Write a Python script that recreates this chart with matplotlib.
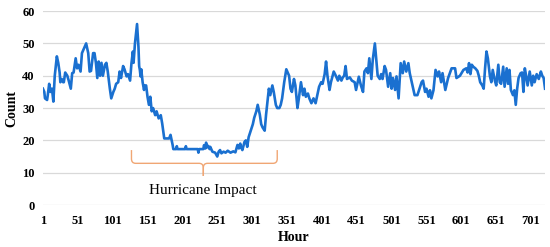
import matplotlib
matplotlib.use("Agg")
import matplotlib.pyplot as plt
from matplotlib.path import Path
from matplotlib.patches import PathPatch

hours = [1, 3, 4, 7, 8, 10, 12, 14, 16, 18, 21, 23, 25, 26, 28, 30, 31, 33, 36, 38,
         41, 43, 45, 48, 50, 52, 55, 57, 61, 63, 66, 68, 70, 73, 75, 77, 79, 81, 83, 85,
         87, 90, 92, 94, 97, 99, 102, 104, 106, 109, 111, 113, 116, 118, 121, 123, 126, 128, 130, 131,
         133, 136, 138, 139, 140, 141, 142, 144, 146, 147, 149, 151, 153, 155, 157, 159, 162, 164, 167, 170,
         172, 175, 178, 182, 184, 187, 188, 192, 193, 194, 205, 206, 207, 223, 224, 225, 231, 232, 234, 235,
         236, 238, 240, 241, 243, 244, 248, 251, 253, 255, 257, 260, 263, 266, 270, 274, 277, 280, 282, 284,
         285, 287, 290, 292, 294, 296, 299, 302, 304, 307, 309, 312, 314, 316, 319, 321, 325, 327, 330, 332,
         335, 337, 340, 342, 344, 347, 350, 352, 354, 356, 358, 361, 363, 366, 368, 371, 374, 376, 378, 381,
         383, 386, 389, 392, 394, 397, 400, 402, 405, 407, 409, 412, 414, 418, 421, 424, 426, 429, 431, 433,
         435, 437, 441, 444, 448, 450, 454, 457, 460, 462, 465, 467, 469, 472, 474, 477, 479, 481, 484, 486,
         488, 491, 493, 496, 499, 501, 503, 506, 508, 511, 514, 517, 519, 522, 525, 527, 531, 534, 538, 541,
         544, 546, 549, 551, 554, 556, 558, 561, 564, 567, 569, 572, 574, 578, 580, 582, 587, 592, 594, 599,
         604, 608, 610, 612, 614, 616, 618, 621, 624, 626, 628, 631, 633, 635, 637, 639, 642, 644, 646, 649,
         651, 654, 656, 658, 661, 663, 666, 668, 670, 672, 675, 677, 679, 681, 683, 686, 688, 690, 692, 694,
         696, 699, 702, 704, 706, 709, 712, 715, 717, 719, 721]

counts = [36, 35, 33, 32.5, 34, 37.5, 35, 36, 32, 40, 46, 44, 41, 38, 39, 38, 38, 41, 40, 38.5,
          36, 40.8, 41, 45.4, 42.3, 43.4, 41.3, 47, 49, 50, 47, 41.3, 41.5, 47, 47, 44, 39.3, 44.4, 40, 44,
          40, 43.4, 44, 41.3, 36, 33, 35, 36, 37.5, 38, 41.3, 39.3, 43, 42, 39.8, 40.5, 38.5, 43.9, 47.5, 44,
          50, 56, 49, 43, 41.8, 39.8, 42, 38, 35.6, 37, 37, 33.5, 31, 33.5, 29, 30, 27.8, 29, 26.8, 27.8,
          25.3, 20.6, 20.6, 20.6, 21.7, 18.6, 17.3, 17.3, 18.2, 17.3, 17.3, 18.2, 17.3, 17.3, 16.2, 17.3, 17.3, 18.5, 17.5, 19.3,
          17.8, 18.3, 17.3, 18, 17, 16.5, 16.2, 15, 16.5, 17, 16, 16.5, 16.2, 16.8, 16.2, 16.6, 16.3, 18.6, 17.5, 19,
          18, 17, 19.5, 20, 18, 21, 23, 25, 27, 29, 31, 28, 25, 24, 23, 28, 36, 34, 37, 35,
          31, 30, 30, 31, 33, 38, 42, 41, 40, 36, 35, 39, 37, 30, 33, 38, 34, 36, 33.5, 34.5,
          33, 31.5, 33, 31.5, 33.5, 36.6, 38, 37.5, 40.5, 44.4, 40, 35.6, 38, 41.3, 40, 38.5, 40, 38.5, 39.5, 40,
          43, 39, 39.5, 38.5, 38, 35.6, 39.7, 37, 35, 41.3, 42.3, 40.8, 45.4, 39, 45, 50, 45, 40, 39, 40.5,
          39, 43, 41.8, 36.6, 40.8, 36, 39.3, 35.6, 39.8, 33, 43.9, 40.8, 44.4, 41.3, 43.9, 40.8, 37, 34, 34, 36,
          38, 38.5, 35, 36, 33.5, 35.5, 33, 35.5, 41.8, 39.8, 41.3, 38, 40.8, 35.6, 37.5, 39.3, 42.3, 42.3, 39.3, 40,
          41.8, 42.3, 41, 43.9, 40.5, 43.4, 42.8, 42.3, 41.5, 40, 38, 37, 36, 42.3, 47.5, 45.4, 39.8, 38, 41.8, 38.5,
          37, 43.4, 38, 37.5, 42.8, 36.6, 42.3, 37.5, 41.8, 35.6, 34, 35.5, 31, 36, 39.3, 40.8, 41, 35, 42.3, 39.8,
          37, 41.3, 37, 40, 38, 40.5, 39, 41.3, 40, 39.3, 36]

x_ticks = [1, 51, 101, 151, 201, 251, 301, 351, 401, 451, 501, 551, 601, 651, 701]
y_ticks = [0, 10, 20, 30, 40, 50, 60]
annotation_text = "Hurricane Impact"
brace_start, brace_end, brace_mid = 128, 337, 231

serif = ["Liberation Serif", "DejaVu Serif"]
plt.rcParams["font.family"] = serif

fig = plt.figure(figsize=(5.5, 2.47), dpi=100)
ax = fig.add_axes([0.078, 0.170, 0.913, 0.785])

ax.plot(hours, counts, color="#1a70d0", lw=1.9, solid_joinstyle="round")

ax.set_xlim(1, 721)
ax.set_ylim(0, 60)
ax.set_xticks(x_ticks)
ax.set_yticks(y_ticks)
ax.grid(axis="y", color="#d9d9d9", lw=0.9)
ax.set_axisbelow(True)
for s in ax.spines.values():
    s.set_visible(False)
ax.tick_params(length=0, labelsize=9)
ax.tick_params(axis="y", pad=6)
ax.tick_params(axis="x", pad=7)
for lab in ax.get_xticklabels() + ax.get_yticklabels():
    lab.set_fontweight("bold")
ax.set_xlabel("Hour", fontsize=10, fontweight="bold", labelpad=3)
ax.set_ylabel("Count", fontsize=10, fontweight="bold", labelpad=2.5)

# curly brace annotation
ytop, ymid, ytip = 17.0, 12.9, 9.0
rx, ry = 6, 1.4
def half(x_end, sign):
    verts = [(x_end, ytop), (x_end, ymid + ry), (x_end, ymid), (x_end + sign * rx, ymid),
             (brace_mid - sign * rx, ymid), (brace_mid, ymid), (brace_mid, ymid - ry), (brace_mid, ytip)]
    codes = [Path.MOVETO, Path.LINETO, Path.CURVE3, Path.CURVE3,
             Path.LINETO, Path.CURVE3, Path.CURVE3, Path.LINETO]
    return Path(verts, codes)
for xe, sg in [(brace_start, 1), (brace_end, -1)]:
    ax.add_patch(PathPatch(half(xe, sg), fill=False, edgecolor="#f0a674", lw=1.0))
ax.text(brace_mid, 4.4, annotation_text, ha="center", va="center", fontsize=11)

fig.savefig("out.png", dpi=100)
